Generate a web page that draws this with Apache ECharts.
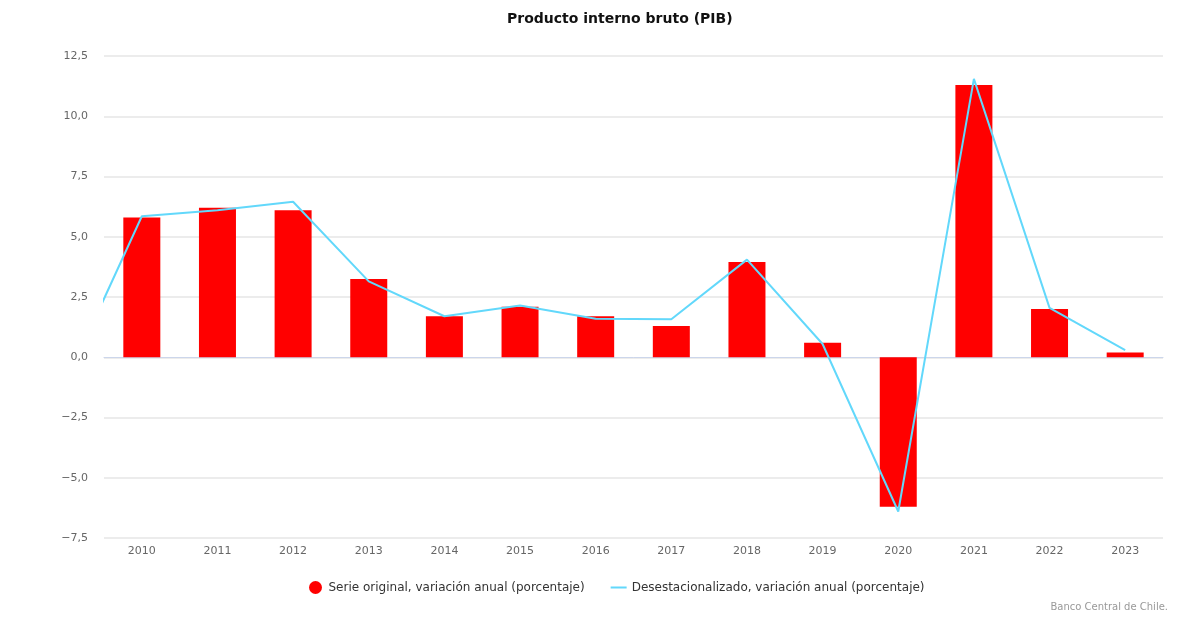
<!DOCTYPE html>
<html>
<head>
<meta charset="utf-8">
<script src="https://cdn.jsdelivr.net/npm/echarts@6/dist/echarts.min.js"></script>
<style>
  html, body { margin: 0; padding: 0; background: #fff; }
  #pib { width: 1200px; height: 621px; }
</style>
</head>
<body>
<div id="pib"></div>
<script>
var years = ['2010', '2011', '2012', '2013', '2014', '2015', '2016', '2017', '2018', '2019', '2020', '2021', '2022', '2023'];
// serie original, variación anual
var original = [5.8, 6.2, 6.1, 3.25, 1.7, 2.1, 1.7, 1.3, 3.95, 0.6, -6.2, 11.3, 2.0, 0.2];
// desestacionalizado (incluye 2009, que queda recortado en el borde)
var desYears = [2009, 2010, 2011, 2012, 2013, 2014, 2015, 2016, 2017, 2018, 2019, 2020, 2021, 2022, 2023];
var desest = [-1.0, 5.85, 6.1, 6.45, 3.15, 1.7, 2.15, 1.6, 1.58, 4.05, 0.55, -6.4, 11.55, 2.05, 0.3];
var yTicks = { min: -7.5, max: 12.5, step: 2.5 };

var chart = echarts.init(document.getElementById('pib'));

var desData = [];
for (var i = 0; i < desYears.length; i++) {
    desData.push([desYears[i], desest[i]]);
}

var fmt = function (v) {
    return v.toFixed(1).replace('.', ',').replace('-', '\u2212');
};

option = {
    animation: false,
    textStyle: { fontFamily: 'DejaVu Sans' },
    title: {
        text: 'Producto interno bruto (PIB)',
        left: 502,
        top: 7,
        textStyle: { fontSize: 14, fontWeight: 'bold', color: '#111', fontFamily: 'DejaVu Sans' }
    },
    legend: {
        bottom: 22,
        left: 304,
        itemGap: 26,
        itemWidth: 16,
        itemHeight: 13,
        textStyle: { fontSize: 12, color: '#333' },
        data: [
            { name: 'Serie original, variación anual (porcentaje)', icon: 'circle' },
            // linea delgada sin marcador
            { name: 'Desestacionalizado, variación anual (porcentaje)',
              icon: 'path://M0,0 L0.01,0 L0.01,0.01 Z M0,5.5 L16,5.5 L16,7.5 L0,7.5 Z M0,13 L0.01,13 L0.01,12.99 Z' }
        ]
    },
    graphic: [{
        type: 'text',
        right: 32,
        bottom: 9,
        style: { text: 'Banco Central de Chile.', fontSize: 10, fill: '#999', fontFamily: 'DejaVu Sans' }
    }],
    grid: { left: 104, right: 37, top: 56, bottom: 83 },
    xAxis: [{
        type: 'category',
        data: years,
        axisLine: { lineStyle: { color: '#ccd6eb' } },
        axisTick: { alignWithLabel: true, length: 9, lineStyle: { color: '#ccd6eb' } },
        axisLabel: { color: '#666', fontSize: 11, margin: 8 }
    }, {
        type: 'value',
        min: 2009.5,
        max: 2023.5,
        show: false
    }],
    yAxis: {
        type: 'value',
        min: yTicks.min,
        max: yTicks.max,
        interval: yTicks.step,
        axisLine: { show: false },
        axisTick: { show: false },
        axisLabel: { color: '#666', fontSize: 11, margin: 16, formatter: fmt },
        splitLine: { lineStyle: { color: '#e6e6e6', width: 1.5 } }
    },
    series: [{
        name: 'Serie original, variación anual (porcentaje)',
        type: 'bar',
        barWidth: 37,
        itemStyle: { color: '#ff0000' },
        data: original
    }, {
        name: 'Desestacionalizado, variación anual (porcentaje)',
        type: 'line',
        xAxisIndex: 1,
        showSymbol: false,
        symbol: 'none',
        clip: true,
        lineStyle: { color: '#62d8fb', width: 2 },
        itemStyle: { color: '#62d8fb' },
        data: desData
    }]
};
chart.setOption(option);
</script>
</body>
</html>
